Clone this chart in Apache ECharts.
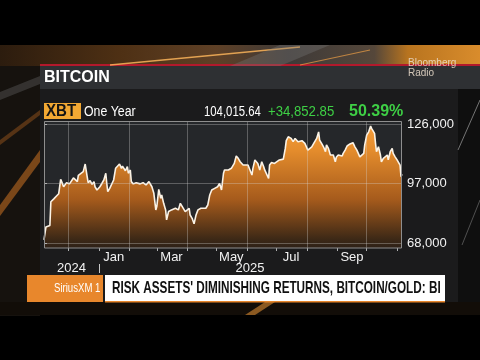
<!DOCTYPE html>
<html><head><meta charset="utf-8">
<script src="https://cdn.jsdelivr.net/npm/echarts@6/dist/echarts.min.js"></script>
<style>html,body{margin:0;padding:0;background:#000}#c{width:480px;height:360px}</style>
</head><body><div id="c"></div>
<script>
// ---- data ----
const dates = [
'2024-11-06','2024-11-08','2024-11-12','2024-11-13','2024-11-16','2024-11-19','2024-11-21','2024-11-23','2024-11-24','2024-11-26','2024-11-28','2024-11-29',
'2024-12-02','2024-12-04','2024-12-06','2024-12-08','2024-12-10','2024-12-11','2024-12-13','2024-12-16','2024-12-18','2024-12-20','2024-12-21','2024-12-23','2024-12-25','2024-12-27','2024-12-28','2024-12-30',
'2025-01-01','2025-01-02','2025-01-04','2025-01-06','2025-01-08','2025-01-09','2025-01-10','2025-01-12','2025-01-14','2025-01-16','2025-01-18','2025-01-19','2025-01-22','2025-01-24','2025-01-25','2025-01-28','2025-01-30','2025-01-31',
'2025-02-02','2025-02-03','2025-02-05','2025-02-08','2025-02-12','2025-02-15','2025-02-18','2025-02-21','2025-02-24','2025-02-26','2025-02-28',
'2025-03-01','2025-03-03','2025-03-05','2025-03-06','2025-03-08','2025-03-10','2025-03-11','2025-03-13','2025-03-16','2025-03-18','2025-03-20','2025-03-23','2025-03-25','2025-03-27','2025-03-30',
'2025-04-01','2025-04-03','2025-04-04','2025-04-06','2025-04-08','2025-04-10','2025-04-12','2025-04-15','2025-04-17','2025-04-20','2025-04-22','2025-04-24','2025-04-26','2025-04-29',
'2025-05-02','2025-05-04','2025-05-06','2025-05-08','2025-05-09','2025-05-13','2025-05-16','2025-05-19','2025-05-21','2025-05-23','2025-05-25','2025-05-28','2025-05-30',
'2025-06-02','2025-06-04','2025-06-06','2025-06-07','2025-06-09','2025-06-11','2025-06-12','2025-06-14','2025-06-16','2025-06-18','2025-06-19','2025-06-21','2025-06-23','2025-06-24','2025-06-26','2025-06-29',
'2025-07-01','2025-07-04','2025-07-06','2025-07-08','2025-07-10','2025-07-11','2025-07-13','2025-07-16','2025-07-18','2025-07-20','2025-07-23','2025-07-25','2025-07-27','2025-07-30',
'2025-08-01','2025-08-02','2025-08-04','2025-08-06','2025-08-08','2025-08-09','2025-08-11','2025-08-13','2025-08-14','2025-08-16','2025-08-18','2025-08-20','2025-08-21','2025-08-23','2025-08-25','2025-08-26','2025-08-28','2025-08-30','2025-08-31',
'2025-09-02','2025-09-06','2025-09-07','2025-09-09','2025-09-11','2025-09-12','2025-09-14','2025-09-16','2025-09-17','2025-09-19','2025-09-21','2025-09-23','2025-09-24','2025-09-26','2025-09-28','2025-09-29',
'2025-10-01','2025-10-03','2025-10-05','2025-10-06','2025-10-08','2025-10-09','2025-10-10','2025-10-11','2025-10-13','2025-10-15','2025-10-16','2025-10-18','2025-10-20','2025-10-22','2025-10-23','2025-10-25','2025-10-27','2025-10-28','2025-10-30',
'2025-11-01','2025-11-02','2025-11-04','2025-11-05','2025-11-06'];
const prices = [
69500,75800,76500,88100,89500,91000,92000,99000,97900,95400,96300,97400,
96800,97200,99700,100300,97900,101000,100600,102800,106500,100300,97400,98400,96600,97900,95400,93800,
93000,95400,97000,98700,102000,97000,93000,94600,95400,98700,104400,103600,106500,104400,105500,103200,105200,102000,
103600,97900,96800,97400,96800,97400,96300,97900,95400,92200,84100,
85700,94100,89800,91400,87300,84100,79200,83300,84100,83300,84900,84100,87300,87600,83300,
84100,84900,81600,80000,77300,81600,84100,84900,84100,84900,86500,91400,93800,94600,
95400,97000,93800,102000,103600,103600,104400,106800,110400,109300,107600,106000,105200,
106000,105200,101100,104400,108500,109300,106800,103600,107600,105200,103600,102700,99500,106000,107200,106800,
107600,108500,107600,108900,114100,117900,119800,119000,117400,119000,117400,118200,117900,116600,
115800,113300,114100,114900,116600,117400,119000,122200,118200,116600,114900,112500,115800,114100,110900,111700,110900,107600,109800,
110900,110400,111700,113300,115300,115800,116300,116600,116900,114900,113300,112500,110000,109300,111700,115800,
120600,122200,125000,123900,123100,121500,116600,112500,114900,110900,107600,109300,108500,110900,108500,112500,114100,111700,110000,
108500,109300,106000,100300,101500];
const yTickValues = [68000, 97000, 126000];
const monthLabels = {'2025-01-16':'Jan','2025-03-16':'Mar','2025-05-16':'May','2025-07-16':'Jul','2025-09-16':'Sep'};
const yearLabels = {'2024-12-04':'2024','2025-06-04':'2025'};
const titleText = 'BITCOIN';
const tickerText = 'XBT';
const periodText = 'One Year';
const lastText = '104,015.64';
const changeText = '+34,852.85';
const pctText = '50.39%';
const brandLines = ['Bloomberg','Radio'];
const channelText = 'SiriusXM 1';
const headlineText = "RISK ASSETS' DIMINISHING RETURNS, BITCOIN/GOLD: BI";

// ---- axis categories: every day of the year shown ----
const days = [];
for (let t = Date.UTC(2024,10,6); t <= Date.UTC(2025,10,6); t += 86400000) days.push(new Date(t).toISOString().slice(0,10));
const seriesData = dates.map((d,i)=>[d, prices[i]]);
const gridMonths = ['12','02','04','06','08','10'];

const FONT = '"Liberation Sans", Arial, sans-serif';
const chart = echarts.init(document.getElementById('c'), null, {renderer:'canvas'});
const G = {left:44, right:78, top:121, bottom:112};

function txt(x,y,text,font,fill,sx,extra){
  return Object.assign({type:'text', x:x, y:y, scaleX:sx||1, z:100,
    style:{text:text, font:font, fill:fill, verticalAlign:'middle', align:'left'}}, extra||{});
}

chart.setOption({
  animation:false,
  backgroundColor:'#000',
  grid:[
    Object.assign({show:true, backgroundColor:'#25272a', borderWidth:0}, G),
    {left:44, right:78, top:124, bottom:117}
  ],
  xAxis:[
    {type:'category', gridIndex:0, data:days, boundaryGap:false, z:3,
     axisLine:{show:false},
     axisTick:{show:true, length:3, interval:(i,v)=>v.slice(8)==='01', lineStyle:{color:'#b0b0b0'}},
     axisLabel:{interval:(i,v)=>v in monthLabels, formatter:v=>monthLabels[v]||'', color:'#f2f2f2', fontSize:13, fontFamily:FONT, margin:3},
     splitLine:{show:true, interval:(i,v)=>v.slice(8)==='01' && gridMonths.includes(v.slice(5,7)), lineStyle:{color:'rgba(215,215,215,0.32)', width:1}}},
    {type:'category', gridIndex:0, data:days, boundaryGap:false, position:'bottom', offset:16,
     axisLine:{show:false},
     axisTick:{show:true, length:9, interval:(i,v)=>v==='2025-01-01', lineStyle:{color:'#c8c8c8'}},
     axisLabel:{interval:(i,v)=>v in yearLabels, formatter:v=>yearLabels[v]||'', color:'#f2f2f2', fontSize:13, fontFamily:FONT, margin:-2},
     splitLine:{show:false}},
    {type:'value', gridIndex:1, show:false, min:0, max:1}
  ],
  yAxis:[
    {type:'value', gridIndex:0, show:false, min:65500, max:127500, splitLine:{show:false}},
    {type:'value', gridIndex:1, position:'right', min:yTickValues[0], max:yTickValues[2], interval:yTickValues[1]-yTickValues[0], z:3,
     axisLine:{show:false},
     axisTick:{show:true, length:3, lineStyle:{color:'#b0b0b0'}},
     axisLabel:{color:'#f2f2f2', fontSize:13, fontFamily:FONT, margin:5},
     splitLine:{show:true, lineStyle:{color:'rgba(215,215,215,0.32)', width:1}}}
  ],
  series:[{
    type:'line', xAxisIndex:0, yAxisIndex:0, data:seriesData, symbol:'none', z:2,
    lineStyle:{color:'#fbf3e6', width:1.6},
    areaStyle:{opacity:1, color:new echarts.graphic.LinearGradient(0,0,0,1,[
      {offset:0,color:'#f59d3a'},{offset:0.2,color:'#e48c2c'},{offset:0.6,color:'#a65b1c'},{offset:0.93,color:'#3c2816'},{offset:1,color:'#2e2118'}])}
  }],
  graphic:[
    // backdrop
    {type:'rect', z:-10, shape:{x:0,y:45,width:480,height:21}, style:{fill:new echarts.graphic.LinearGradient(0,0,1,0,[
      {offset:0,color:'#2c1c0e'},{offset:0.25,color:'#4e3014'},{offset:0.45,color:'#5e4026'},{offset:0.6,color:'#3e3a38'},{offset:0.78,color:'#55473a'},{offset:0.85,color:'#b8741f'},{offset:1,color:'#d98c2c'}])}},
    {type:'line', z:-9, shape:{x1:110,y1:65,x2:300,y2:47}, style:{stroke:'rgba(250,180,90,0.85)', lineWidth:1.5}},
    {type:'line', z:-9, shape:{x1:300,y1:65,x2:370,y2:50}, style:{stroke:'rgba(240,160,70,0.7)', lineWidth:1.2}},
    {type:'polygon', z:-9, shape:{points:[[230,66],[280,45],[330,45],[280,66]]}, style:{fill:'rgba(120,120,120,0.35)'}},
    {type:'rect', z:-10, shape:{x:0,y:66,width:40,height:250}, style:{fill:'#16120e'}},
    {type:'polygon', z:-9, shape:{points:[[0,92],[40,76],[40,84],[0,100]]}, style:{fill:'rgba(110,110,110,0.35)'}},
    {type:'polygon', z:-9, shape:{points:[[0,205],[40,150],[40,162],[0,216]]}, style:{fill:'rgba(205,115,35,0.55)'}},
    {type:'polygon', z:-9, shape:{points:[[0,140],[40,110],[40,115],[0,145]]}, style:{fill:'rgba(205,115,35,0.35)'}},
    {type:'rect', z:-10, shape:{x:40,y:64,width:440,height:2}, style:{fill:'#b3192c'}},
    {type:'rect', z:-10, shape:{x:40,y:66,width:440,height:23}, style:{fill:'#2e3033'}},
    {type:'rect', z:-10, shape:{x:40,y:89,width:418,height:214}, style:{fill:'#1b1b1c'}},
    {type:'rect', z:-10, shape:{x:458,y:89,width:22,height:214}, style:{fill:'#0f0f0f'}},
    {type:'line', z:-9, shape:{x1:458,y1:150,x2:480,y2:100}, style:{stroke:'rgba(200,200,200,0.55)', lineWidth:1}},
    {type:'line', z:-9, shape:{x1:462,y1:245,x2:480,y2:200}, style:{stroke:'rgba(200,200,200,0.35)', lineWidth:1}},
    {type:'rect', z:-10, shape:{x:0,y:302,width:480,height:13}, style:{fill:'#120d08'}},
    {type:'polygon', z:-9, shape:{points:[[245,315],[265,302],[275,302],[255,315]]}, style:{fill:'rgba(220,140,50,0.6)'}},
    // plot frame
    {type:'rect', z:10, shape:{x:44.5,y:121.5,width:357,height:126.5}, style:{fill:null, stroke:'#8e8e8e', lineWidth:1}},
    // header
    txt(44,78,titleText,'bold 16px '+FONT,'#ffffff'),
    txt(408,63,brandLines[0],'10px '+FONT,'rgba(236,222,204,0.85)'),
    txt(408,73.5,brandLines[1],'10px '+FONT,'rgba(236,222,204,0.85)'),
    {type:'rect', z:99, shape:{x:44,y:103,width:37,height:16}, style:{fill:'#f2a833'}},
    txt(46,111.5,tickerText,'bold 16px '+FONT,'#141414',0.94),
    txt(84,112,periodText,'14px '+FONT,'#ffffff',0.88),
    txt(204,112,lastText,'14px '+FONT,'#ffffff',0.81),
    txt(268,112,changeText,'14px '+FONT,'#3ecf45',0.94),
    txt(349,112,pctText,'bold 16px '+FONT,'#3ecf45'),
    // lower third
    {type:'rect', z:99, shape:{x:27,y:275,width:76,height:27}, style:{fill:'#e8872c'}},
    txt(54,289,channelText,'12px '+FONT,'#ffffff',0.8),
    {type:'rect', z:99, shape:{x:105,y:275,width:340,height:27}, style:{fill:'#ffffff'}},
    {type:'rect', z:99, shape:{x:105,y:301,width:340,height:1.5}, style:{fill:'#e8872c'}},
    txt(112,288.5,headlineText,'bold 17px '+FONT,'#111111',0.69)
  ]
});
</script>
</body></html>
